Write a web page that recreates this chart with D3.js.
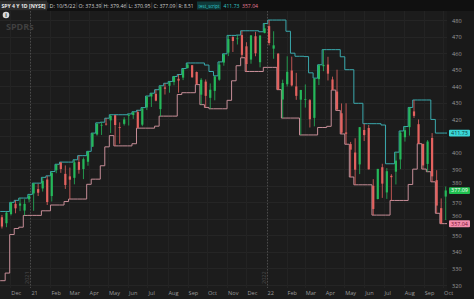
<!DOCTYPE html>
<html><head><meta charset="utf-8">
<script src="https://cdn.jsdelivr.net/npm/d3@7"></script>
<style>html,body{margin:0;padding:0;background:#1b1b1b;overflow:hidden}svg{display:block}</style>
</head><body><svg id="c" width="474" height="299"></svg>
<script>
// Weekly SPY candles (week start dates)
const weeks = ["2020-10-05","2020-10-12","2020-10-19","2020-10-26","2020-11-02","2020-11-09","2020-11-16","2020-11-23","2020-11-30","2020-12-07","2020-12-14","2020-12-21","2020-12-28",
"2021-01-04","2021-01-11","2021-01-18","2021-01-25","2021-02-01","2021-02-08","2021-02-15","2021-02-22","2021-03-01","2021-03-08","2021-03-15","2021-03-22","2021-03-29","2021-04-05","2021-04-12","2021-04-19","2021-04-26","2021-05-03","2021-05-10","2021-05-17","2021-05-24","2021-05-31","2021-06-07","2021-06-14","2021-06-21","2021-06-28","2021-07-05","2021-07-12","2021-07-19","2021-07-26","2021-08-02","2021-08-09","2021-08-16","2021-08-23","2021-08-30","2021-09-06","2021-09-13","2021-09-20","2021-09-27","2021-10-04","2021-10-11","2021-10-18","2021-10-25","2021-11-01","2021-11-08","2021-11-15","2021-11-22","2021-11-29","2021-12-06","2021-12-13","2021-12-20","2021-12-27",
"2022-01-03","2022-01-10","2022-01-17","2022-01-24","2022-01-31","2022-02-07","2022-02-14","2022-02-21","2022-02-28","2022-03-07","2022-03-14","2022-03-21","2022-03-28","2022-04-04","2022-04-11","2022-04-18","2022-04-25","2022-05-02","2022-05-09","2022-05-16","2022-05-23","2022-05-30","2022-06-06","2022-06-13","2022-06-20","2022-06-27","2022-07-04","2022-07-11","2022-07-18","2022-07-25","2022-08-01","2022-08-08","2022-08-15","2022-08-22","2022-08-29","2022-09-05","2022-09-12","2022-09-19","2022-09-26","2022-10-03"];

const opens = [339.0,349.6,348.6,342.1,330.2,363.97,360.9,357.3,362.8,369.0,367.9,364.97,371.7,
375.3,377.9,378.3,383.7,373.7,389.3,393.96,387.1,385.6,384.7,394.3,390.0,394.4,403.5,410.9,416.3,417.4,419.4,422.5,415.4,417.3,422.6,422.6,424.4,416.8,427.2,433.8,435.4,426.2,439.3,440.3,442.5,444.5,445.2,450.97,452.7,448.6,434.9,442.8,433.0,437.2,443.97,454.3,460.3,469.7,468.6,470.9,464.1,456.1,470.2,454.5,472.1,
476.3,462.7,459.7,432.0,441.2,449.5,439.9,431.9,432.0,431.6,420.9,444.3,452.1,453.1,444.1,436.8,423.7,412.1,405.1,399.98,392.8,413.6,414.8,379.9,371.9,391.1,375.9,385.9,388.4,395.8,409.2,415.3,424.8,417.1,405.2,393.1,408.8,383.3,366.4,373.39];

const highs = [347.4,354.0,349.3,342.9,352.2,364.4,362.3,364.2,369.9,371.1,372.5,371.8,374.7,
381.5,381.1,385.0,385.9,388.5,392.9,394.2,392.2,390.9,395.6,398.1,397.0,400.7,411.7,417.9,418.3,420.7,422.8,422.7,418.2,421.3,423.3,424.6,425.5,427.1,434.1,435.8,437.9,440.3,441.8,442.9,445.9,447.1,450.7,454.05,452.8,448.9,444.9,444.1,441.7,446.3,454.7,459.6,470.7,470.2,470.9,473.5,466.6,470.9,472.9,470.9,477.9,
479.98,473.2,459.96,444.0,458.1,457.9,448.1,437.8,441.1,432.3,444.9,452.98,462.1,457.8,445.8,450.0,429.6,429.7,406.4,408.6,415.4,417.4,416.6,383.9,390.1,393.2,390.6,386.9,400.2,413.0,415.7,427.2,431.7,419.96,405.2,407.5,411.73,389.3,372.3,379.46];

const lows = [337.8,343.1,340.4,322.6,327.2,350.5,354.1,354.9,362.0,363.3,364.6,362.03,369.9,
364.8,373.7,376.4,368.3,370.4,387.5,387.7,378.0,371.9,380.8,387.2,383.9,392.0,403.4,410.2,410.6,416.3,411.7,404.0,405.3,416.3,416.3,420.3,414.7,415.9,425.6,427.5,430.9,421.97,435.0,436.1,440.6,436.1,443.7,450.7,445.2,441.0,428.9,427.2,426.4,431.5,443.3,452.4,458.2,460.7,465.2,457.2,448.9,453.6,458.1,451.4,472.0,
464.7,456.6,437.95,420.8,439.8,439.9,431.8,410.6,427.1,415.1,415.8,440.7,449.1,443.5,437.7,425.4,411.2,405.0,385.2,380.5,386.96,406.9,389.8,362.2,371.7,372.6,372.0,371.04,380.7,389.95,406.6,410.2,420.9,405.3,390.0,388.4,382.3,363.3,357.04,359.2];

const closes = [347.3,347.3,345.8,326.5,350.2,358.1,355.3,363.7,369.9,366.3,369.2,369.0,373.9,
381.3,375.7,382.9,370.1,387.7,392.6,390.0,380.4,383.6,394.1,389.5,395.98,400.6,411.5,417.3,416.7,417.3,422.1,416.6,414.9,420.0,422.6,424.3,414.9,426.6,433.7,435.5,431.3,439.9,438.5,442.5,445.9,443.4,450.3,453.1,445.4,441.4,443.9,434.2,437.9,445.9,453.1,459.3,468.5,467.3,468.9,458.97,453.4,470.7,459.9,470.6,474.96,
466.1,464.7,437.98,441.95,448.7,440.5,434.2,437.75,432.2,420.1,444.5,452.7,452.9,447.6,437.8,426.0,412.0,411.3,401.7,389.6,415.3,410.5,389.8,365.9,390.1,381.2,388.7,385.1,395.1,411.99,413.5,427.1,422.1,405.3,392.2,406.6,385.6,367.95,357.2,377.09];

const priceTicks = [320,330,340,350,360,370,380,390,400,410,420,430,440,450,460,470,480];
const monthTicks = ["2020-12-01","2021-01-01","2021-02-01","2021-03-01","2021-04-01","2021-05-01","2021-06-01","2021-07-01","2021-08-01","2021-09-01","2021-10-01","2021-11-01","2021-12-01","2022-01-01","2022-02-01","2022-03-01","2022-04-01","2022-05-01","2022-06-01","2022-07-01","2022-08-01","2022-09-01","2022-10-01"];
const monthLabels = ["Dec","21","Feb","Mar","Apr","May","Jun","Jul","Aug","Sep","Oct","Nov","Dec","22","Feb","Mar","Apr","May","Jun","Jul","Aug","Sep","Oct"];
const yearLines = ["2021-01-01","2022-01-01"];
const yearTexts = ["2021","2022"];
const headerItems = ["D: 10/5/22","O: 373.39","H: 379.46","L: 370.95","C: 377.09","R: 8.51"];
const upperLast = 411.73, lowerLast = 357.04, lastClose = 377.09;
const lookback = 4; // weeks (~20 trading days)

const parse = d3.timeParse("%Y-%m-%d");
const W = 474, H = 299, plotR = 447, plotT = 11, plotB = 288;
const svg = d3.select("#c");
const font = "'Open Sans', Roboto, 'DejaVu Sans', sans-serif";

const x = d3.scaleTime().domain([parse("2020-11-15"), parse("2022-10-07")]).range([0, plotR]);
const y = d3.scaleLinear().domain([320, 480]).range([285, 20]);

const data = weeks.map((w, i) => ({d: parse(w), o: opens[i], h: highs[i], l: lows[i], c: closes[i]}));
data.forEach((d, i) => {
  const win = data.slice(Math.max(0, i - lookback + 1), i + 1);
  d.up = d3.max(win, e => e.h);
  d.dn = d3.min(win, e => e.l);
});

svg.append("rect").attr("width", W).attr("height", H).attr("fill", "#1c1c1c");
svg.append("rect").attr("x", plotR).attr("y", plotT).attr("width", W - plotR).attr("height", H - plotT).attr("fill", "#191919");

// grid
const g = svg.append("g");
g.selectAll(".hg").data(priceTicks).join("line")
  .attr("x1", 0).attr("x2", plotR).attr("y1", d => Math.round(y(d)) + 0.5).attr("y2", d => Math.round(y(d)) + 0.5)
  .attr("stroke", "#252525").attr("stroke-width", 1);
g.selectAll(".vg").data(monthTicks).join("line")
  .attr("x1", d => Math.round(x(parse(d))) + 0.5).attr("x2", d => Math.round(x(parse(d))) + 0.5)
  .attr("y1", plotT).attr("y2", plotB).attr("stroke", "#232323");

// year separators
yearLines.forEach((d, i) => {
  const xx = Math.round(x(parse(d))) + 0.5;
  g.append("line").attr("x1", xx).attr("x2", xx).attr("y1", plotT).attr("y2", plotB)
    .attr("stroke", "#4a4a4a").attr("stroke-dasharray", "1.5,1.5");
  g.append("text").attr("transform", `translate(${xx - 2},${plotB - 4}) rotate(-90)`)
    .attr("font-family", font).attr("font-size", 5.5).attr("fill", "#4d4d4d").text(yearTexts[i]);
});

// clip
svg.append("clipPath").attr("id", "pc").append("rect").attr("x", 0).attr("y", plotT).attr("width", plotR).attr("height", plotB - plotT);
const pg = svg.append("g").attr("clip-path", "url(#pc)");

// channel lines
const endDate = parse("2022-10-07");
const stepData = data.map(d => ({d: d.d, up: d.up, dn: d.dn}));
stepData.push({d: endDate, up: data[data.length - 1].up, dn: data[data.length - 1].dn});
pg.append("path").datum(stepData).attr("fill", "none").attr("stroke", "#3aa9ad").attr("stroke-width", 1)
  .attr("d", d3.line().curve(d3.curveStepAfter).x(d => x(d.d)).y(d => y(d.up)));
pg.append("path").datum(stepData).attr("fill", "none").attr("stroke", "#c68d97").attr("stroke-width", 1)
  .attr("d", d3.line().curve(d3.curveStepAfter).x(d => x(d.d)).y(d => y(d.dn)));

// candles
const upC = "#25b85a", dnC = "#e4625f";
const mid = d => x(d3.timeDay.offset(d.d, 2));
const bw = 2.2;
const cg = pg.selectAll(".cd").data(data).join("g");
cg.append("line").attr("x1", mid).attr("x2", mid).attr("y1", d => y(d.h)).attr("y2", d => y(d.l))
  .attr("stroke", d => d.c >= d.o ? upC : dnC).attr("stroke-width", 0.8);
cg.append("rect").attr("x", d => mid(d) - bw / 2).attr("width", bw)
  .attr("y", d => y(Math.max(d.o, d.c))).attr("height", d => Math.max(0.8, Math.abs(y(d.o) - y(d.c))))
  .attr("fill", d => d.c >= d.o ? upC : dnC);

// axes: labels nearly on a price tag are hidden (as in the reference), close ones are nudged clear of it
const tags = [upperLast, lastClose, lowerLast];
const minGap = 7.9;
const hidden = priceTicks.filter(t => tags.some(v => Math.abs(y(v) - y(t)) < 3.5));
const ya = svg.append("g").attr("transform", `translate(${plotR},0)`)
  .call(d3.axisRight(y).tickValues(priceTicks.filter(t => !hidden.includes(t))).tickSize(0).tickPadding(5).tickFormat(d3.format("d")));
ya.select(".domain").remove();
ya.selectAll("text").attr("font-family", font).attr("font-size", 5.6).attr("fill", "#9a9a9a")
  .attr("dy", function(t) {
    let shift = 0;
    tags.forEach(v => {
      const dd = y(t) - y(v);
      if (Math.abs(dd) < minGap) shift = (dd < 0 ? -1 : 1) * (minGap - Math.abs(dd));
    });
    return (2 + shift) + "px";
  });

const xa = svg.append("g").attr("transform", `translate(0,${plotB})`)
  .call(d3.axisBottom(x).tickValues(monthTicks.map(parse)).tickSize(0).tickPadding(3.5)
    .tickFormat((d, i) => monthLabels[i]));
xa.select(".domain").remove();
xa.selectAll("text").attr("font-family", font).attr("font-size", 5.6).attr("fill", "#9a9a9a")
  .attr("text-anchor", "start").attr("dx", 0.5);

// price tags
function tag(v, bg, fg) {
  const t = svg.append("g").attr("transform", `translate(${plotR + 2},${y(v)})`);
  t.append("rect").attr("x", 0).attr("y", -3.3).attr("width", 21).attr("height", 6.8).attr("rx", 1).attr("fill", bg);
  t.append("text").attr("x", 10.5).attr("y", 1.9).attr("text-anchor", "middle").attr("font-family", font)
    .attr("font-size", 5.4).attr("fill", fg).text(v.toFixed(2));
}
tag(upperLast, "#3ad6d6", "#0d3a3a");
tag(lastClose, "#1fbf4f", "#ffffff");
tag(lowerLast, "#f28cab", "#7a1030");

// header
svg.append("rect").attr("width", W).attr("height", plotT).attr("fill", "#101010");
svg.append("rect").attr("x", 0).attr("y", 0.5).attr("width", 47).attr("height", 10).attr("fill", "#2c2c2c");
svg.append("text").attr("x", 1.5).attr("y", 7.6).attr("font-family", font).attr("font-size", 5.4).attr("font-weight", "bold")
  .attr("fill", "#e6e6e6").attr("textLength", 44).attr("lengthAdjust", "spacingAndGlyphs").text("SPY 4 Y 1D [NYSE]");
const hx = [49, 78, 103, 128, 153, 178];
const hw = [26, 23, 23, 22, 22, 15];
headerItems.forEach((it, i) => {
  svg.append("line").attr("x1", hx[i] - 1.2).attr("x2", hx[i] - 1.2).attr("y1", 2.5).attr("y2", 8.5).attr("stroke", "#3a3a3a");
  svg.append("text").attr("x", hx[i] + 0.5).attr("y", 7.6).attr("font-family", font).attr("font-size", 5)
    .attr("fill", "#cfcfcf").attr("textLength", hw[i]).attr("lengthAdjust", "spacingAndGlyphs").text(it);
});
svg.append("rect").attr("x", 197).attr("y", 1.5).attr("width", 24).attr("height", 8).attr("fill", "#0f3a3a");
svg.append("text").attr("x", 198.5).attr("y", 7.6).attr("font-family", font).attr("font-size", 5).attr("fill", "#33c9c9")
  .attr("textLength", 21).attr("lengthAdjust", "spacingAndGlyphs").text("test_script");
svg.append("text").attr("x", 223.5).attr("y", 7.6).attr("font-family", font).attr("font-size", 5).attr("fill", "#33c9c9")
  .attr("textLength", 16).attr("lengthAdjust", "spacingAndGlyphs").text(upperLast.toFixed(2));
svg.append("text").attr("x", 242).attr("y", 7.6).attr("font-family", font).attr("font-size", 5).attr("fill", "#e57e98")
  .attr("textLength", 16).attr("lengthAdjust", "spacingAndGlyphs").text(lowerLast.toFixed(2));

// info icon and watermark
svg.append("circle").attr("cx", 6).attr("cy", 15).attr("r", 3.3).attr("fill", "#d8d8d8");
svg.append("text").attr("x", 6).attr("y", 17).attr("text-anchor", "middle").attr("font-family", font).attr("font-size", 5)
  .attr("font-weight", "bold").attr("fill", "#1b1b1b").text("i");
svg.append("text").attr("x", 6).attr("y", 30).attr("font-family", font).attr("font-size", 9).attr("font-weight", "bold")
  .attr("fill", "#404040").text("SPDRs");
</script></body></html>
